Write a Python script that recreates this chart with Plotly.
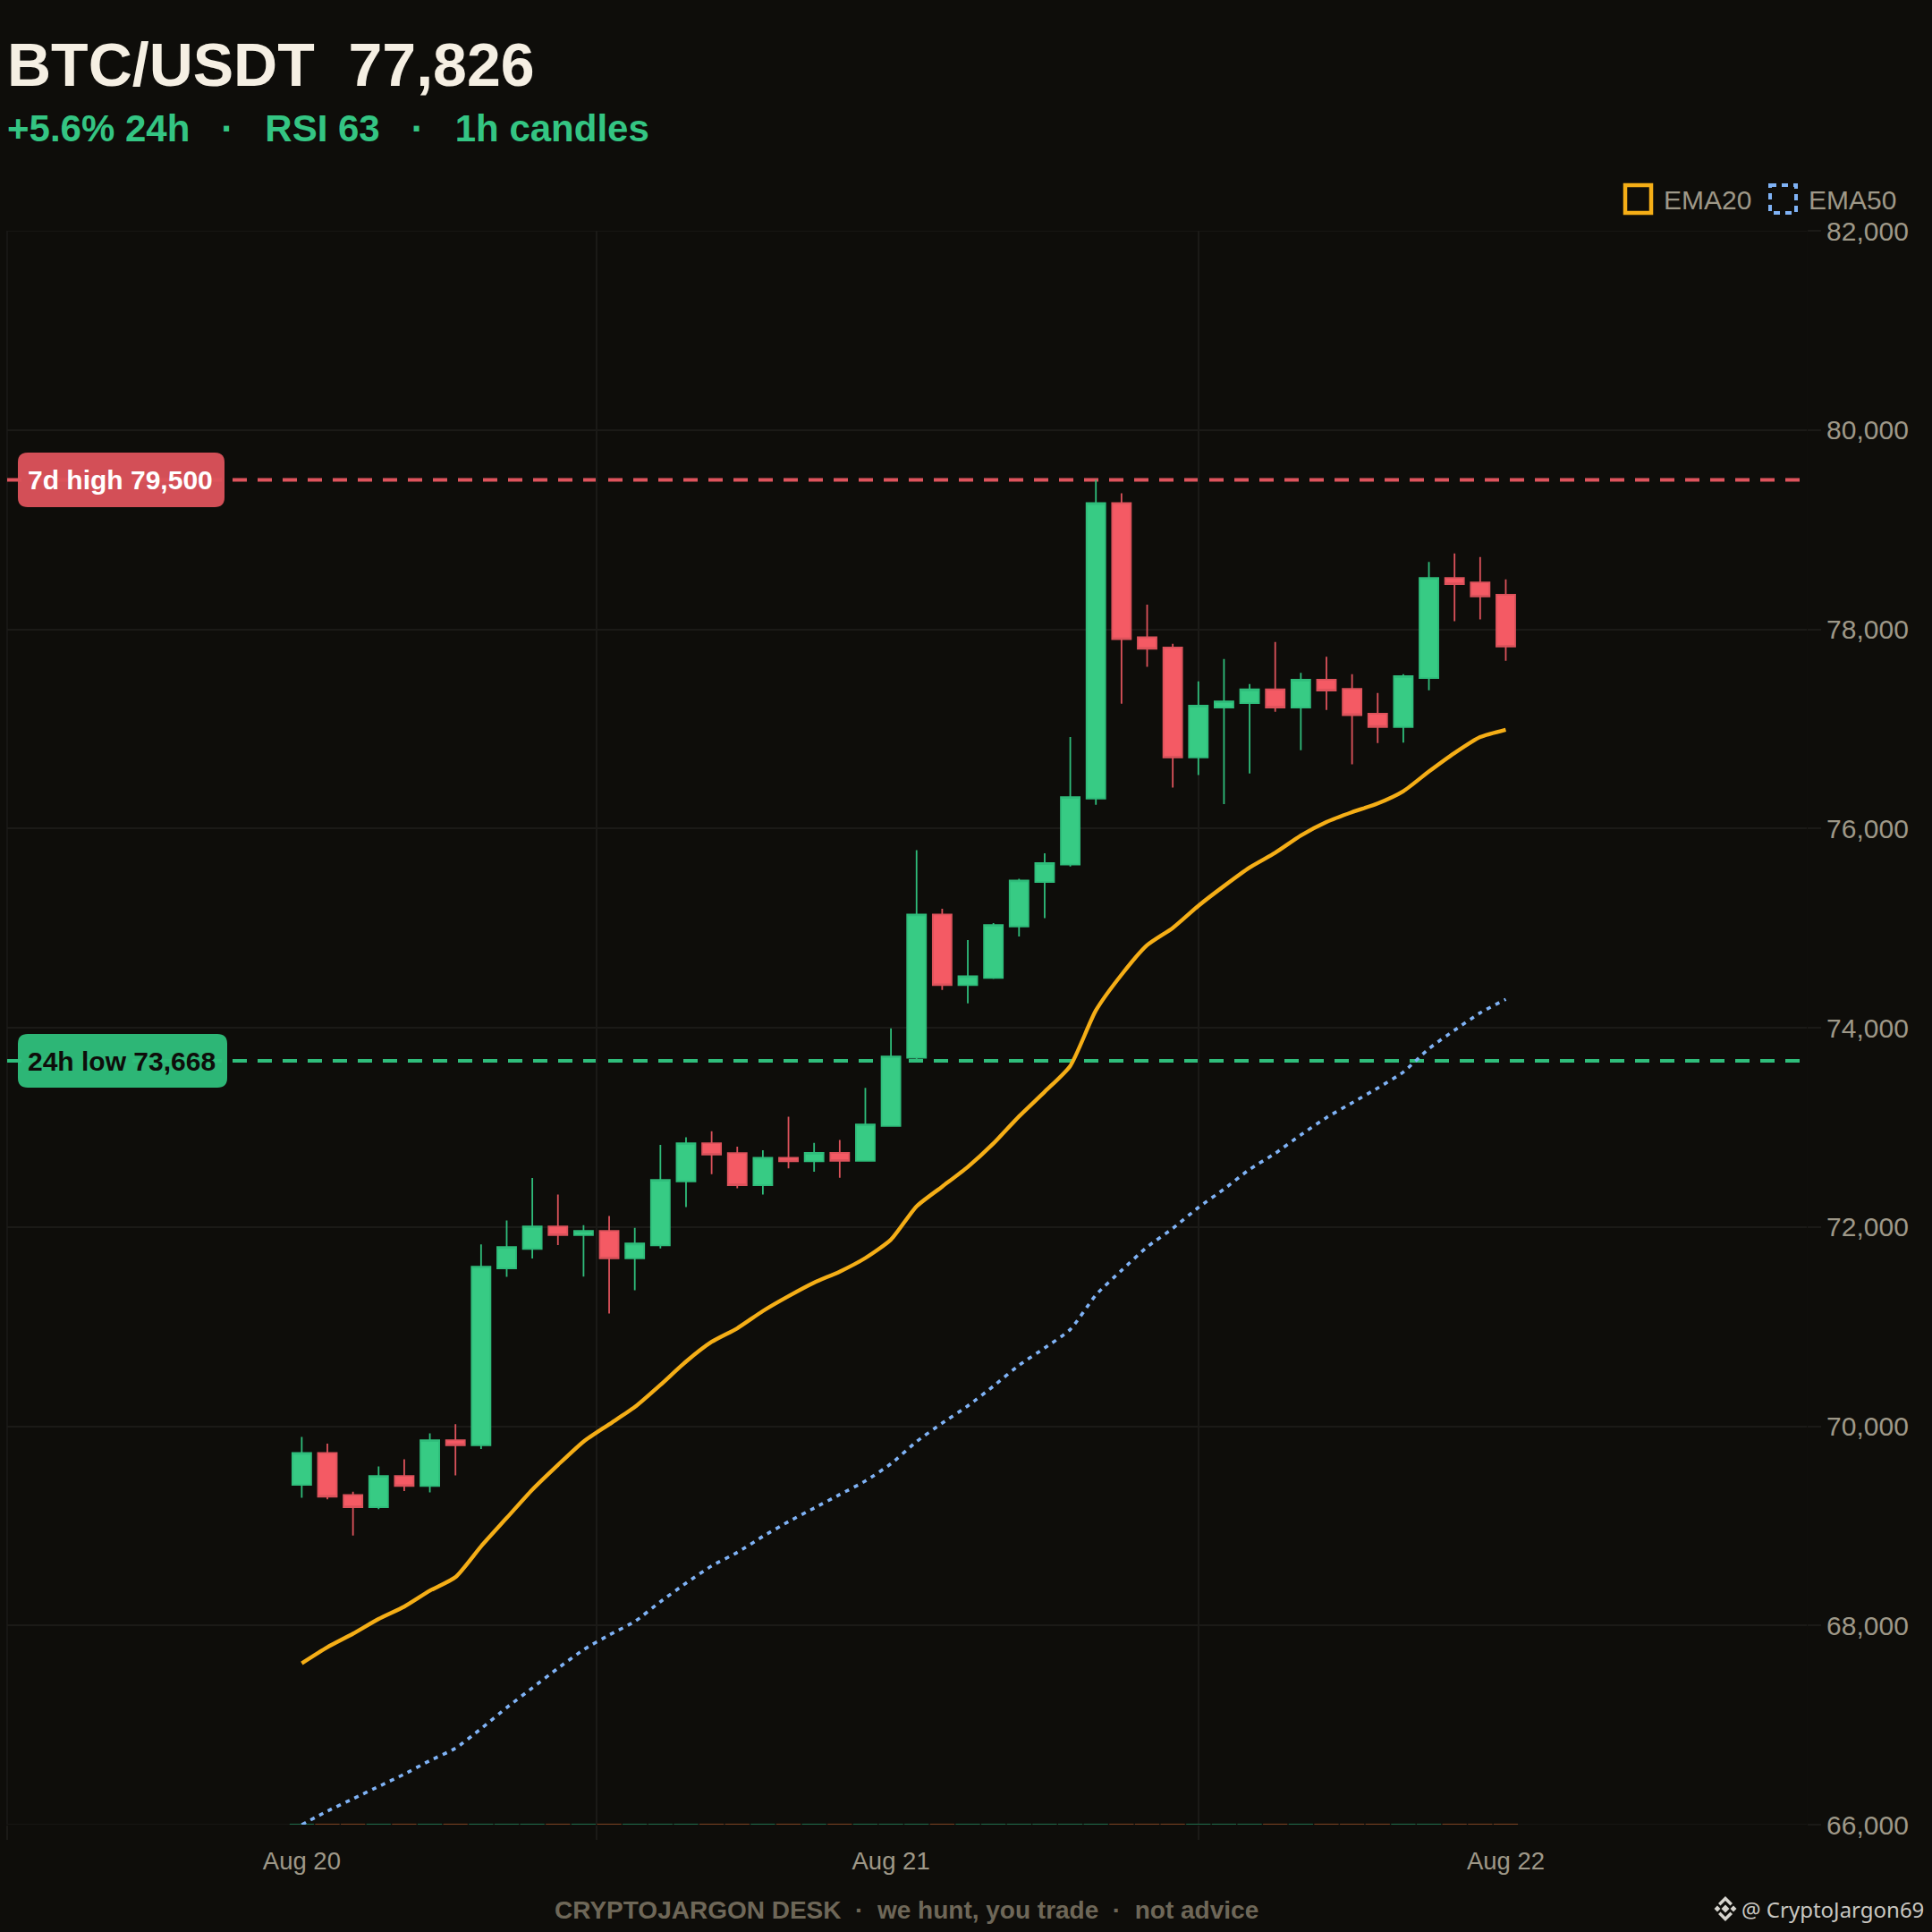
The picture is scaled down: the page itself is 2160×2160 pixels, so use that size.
import plotly.graph_objects as go

hours = list(range(48))

opens = [69411, 69731, 69309, 69186, 69500, 69399, 69859, 69809, 71583, 71780, 72005, 71918,
         71960, 71684, 71814, 72458, 72841, 72742, 72419, 72694, 72658, 72745, 72664, 73014,
         73698, 75137, 74428, 74500, 75017, 75463, 75637, 76301, 79266, 77919, 77817, 76713,
         77213, 77258, 77396, 77213, 77494, 77402, 77153, 77019, 77509, 78515, 78470, 78347]
highs = [69892, 69826, 69342, 69596, 69668, 69928, 70021, 71825, 72064, 72492, 72325, 72017,
         72109, 71990, 72823, 72901, 72960, 72805, 72769, 73107, 72844, 72874, 73397, 73994,
         75783, 75194, 74880, 75050, 75496, 75750, 76917, 79500, 79364, 78248, 77853, 77476,
         77701, 77449, 77871, 77563, 77725, 77548, 77360, 77548, 78676, 78760, 78724, 78500]
lows = [69282, 69267, 68902, 69168, 69348, 69336, 69506, 69770, 71499, 71684, 71819, 71502,
        71131, 71364, 71785, 72200, 72530, 72389, 72326, 72589, 72554, 72494, 72660, 73010,
        73668, 74380, 74245, 74490, 74916, 75101, 75619, 76238, 77252, 77623, 76411, 76537,
        76244, 76552, 77171, 76785, 77189, 76645, 76857, 76863, 77387, 78081, 78099, 77683]
closes = [69731, 69291, 69186, 69500, 69399, 69859, 69809, 71601, 71798, 72005, 71918, 71960,
          71684, 71834, 72473, 72841, 72727, 72419, 72694, 72658, 72745, 72664, 73029, 73711,
          75137, 74428, 74518, 75032, 75478, 75652, 76316, 79266, 77901, 77803, 76713, 77234,
          77276, 77396, 77213, 77494, 77384, 77138, 77019, 77530, 78515, 78452, 78329, 77826]

ema20 = [67620, 67781, 67917, 68065, 68189, 68349, 68485, 68794, 69079, 69363, 69611, 69846,
         70019, 70192, 70414, 70649, 70847, 70983, 71156, 71305, 71441, 71552, 71688, 71873,
         72207, 72405, 72603, 72838, 73110, 73357, 73617, 74173, 74532, 74829, 75002, 75224,
         75422, 75608, 75756, 75929, 76065, 76164, 76251, 76374, 76572, 76758, 76918, 76992]
ema50 = [66000, 66136, 66260, 66383, 66507, 66643, 66767, 66964, 67175, 67373, 67570, 67756,
         67904, 68040, 68238, 68424, 68597, 68733, 68893, 69042, 69178, 69314, 69450, 69623,
         69846, 70031, 70204, 70402, 70612, 70785, 70971, 71317, 71564, 71799, 71985, 72195,
         72380, 72578, 72739, 72924, 73098, 73246, 73394, 73555, 73790, 73975, 74149, 74285]

# thin coloured strip sitting on the bottom axis
volume_strip = [20] * 48

high_7d = 79500
low_24h = 73668

date_ticks = [0, 23, 47]
date_labels = ["Aug 20", "Aug 21", "Aug 22"]
grid_ticks = [-11.5, 11.5, 35]
price_ticks = [66000, 68000, 70000, 72000, 74000, 76000, 78000, 80000, 82000]

BG = "#0E0D0A"
GRID = "#1B1A17"
GREEN = "#37CB84"
RED = "#F45A64"
MUTED = "#9E9888"
FONT = "Liberation Sans"

# plot box in page pixels, decorations below are placed against it
LEFT, RIGHT, TOP, BOTTOM = 8, 2020, 258, 2040


def px(x):
    return (x - LEFT) / (RIGHT - LEFT)


def py(y):
    return (BOTTOM - y) / (BOTTOM - TOP)


def rounded_box(x0, y0, x1, y1, r):
    pts = [("M", x0 + r, y0), ("L", x1 - r, y0), ("Q", x1, y0, x1, y0 + r), ("L", x1, y1 - r),
           ("Q", x1, y1, x1 - r, y1), ("L", x0 + r, y1), ("Q", x0, y1, x0, y1 - r),
           ("L", x0, y0 + r), ("Q", x0, y0, x0 + r, y0)]
    out = ""
    for p in pts:
        out += p[0]
        coords = p[1:]
        for i in range(0, len(coords), 2):
            out += f"{px(coords[i]):.5f},{py(coords[i + 1]):.5f} "
    return out + "Z"


def poly(points):
    return "M" + " L".join(f"{px(a):.5f},{py(b):.5f}" for a, b in points) + " Z"


def label(x, y, text, size, color, bold=False, anchor="left", family=FONT):
    fig.add_annotation(xref="paper", yref="paper", x=px(x), y=py(y), text=text, showarrow=False,
                       xanchor=anchor, yanchor="middle", borderpad=0,
                       font=dict(family=family, size=size, color=color,
                                 weight="bold" if bold else "normal"))


strip_colors = ["#1F6647" if c >= o else "#743F22" for o, c in zip(opens, closes)]

fig = go.Figure()
fig.add_trace(go.Bar(x=hours, y=volume_strip, base=65990, width=0.95, cliponaxis=False,
                     marker=dict(color=strip_colors, line_width=0), name="Volume"))
fig.add_trace(go.Candlestick(
    x=hours, open=opens, high=highs, low=lows, close=closes, name="BTC/USDT",
    increasing=dict(line=dict(color="#2FBD7B", width=1.8), fillcolor=GREEN),
    decreasing=dict(line=dict(color="#DC525B", width=1.8), fillcolor=RED),
))
fig.add_trace(go.Scatter(x=hours, y=ema20, mode="lines", name="EMA20",
                         line=dict(color="#F5AE16", width=4.4, shape="spline", smoothing=0.6)))
fig.add_trace(go.Scatter(x=hours, y=ema50, mode="lines", name="EMA50",
                         line=dict(color="#7FB2F5", width=3.6, dash="5px,6px", shape="spline", smoothing=0.6)))

# plot frame: plotly drops the gridlines that fall on the range edges
for edge in [66000, 82000]:
    fig.add_shape(type="line", xref="paper", x0=0, x1=1, y0=edge, y1=edge, layer="below",
                  line=dict(color=GRID, width=1.6))
fig.add_shape(type="line", xref="paper", yref="paper", x0=0, x1=0, y0=0, y1=1, layer="below",
              line=dict(color=GRID, width=1.6))

fig.add_shape(type="line", xref="paper", x0=0, x1=1, y0=high_7d, y1=high_7d, layer="below",
              line=dict(color="#DE545D", width=4, dash="16px,12px"))
fig.add_shape(type="line", xref="paper", x0=0, x1=1, y0=low_24h, y1=low_24h, layer="below",
              line=dict(color="#2FBD7B", width=4, dash="16px,12px"))

# price chips
fig.add_shape(type="path", xref="paper", yref="paper", path=rounded_box(20, 506, 251, 567, 11),
              fillcolor="#DC525B", opacity=0.96, line_width=0)
fig.add_shape(type="path", xref="paper", yref="paper", path=rounded_box(20, 1156, 254, 1216, 11),
              fillcolor="#2FBD7B", opacity=0.96, line_width=0)

# legend swatches
fig.add_shape(type="rect", xref="paper", yref="paper", x0=px(1817), x1=px(1846), y0=py(207), y1=py(238),
              line=dict(color="#F5AE16", width=4.5))
fig.add_shape(type="rect", xref="paper", yref="paper", x0=px(1979), x1=px(2008), y0=py(207), y1=py(238),
              line=dict(color="#7FB2F5", width=4, dash="7px,6px"))

# logo next to the handle
lx, ly = 1929, 2134
for pts in [
    [(lx, ly - 4.5), (lx + 4.5, ly), (lx, ly + 4.5), (lx - 4.5, ly)],
    [(lx - 12.5, ly), (lx - 9, ly - 3.5), (lx - 5.5, ly), (lx - 9, ly + 3.5)],
    [(lx + 12.5, ly), (lx + 9, ly - 3.5), (lx + 5.5, ly), (lx + 9, ly + 3.5)],
    [(lx, ly - 14), (lx + 8, ly - 6), (lx + 5.5, ly - 3.5), (lx, ly - 9), (lx - 5.5, ly - 3.5), (lx - 8, ly - 6)],
    [(lx, ly + 14), (lx + 8, ly + 6), (lx + 5.5, ly + 3.5), (lx, ly + 9), (lx - 5.5, ly + 3.5), (lx - 8, ly + 6)],
]:
    fig.add_shape(type="path", xref="paper", yref="paper", path=poly(pts), fillcolor="#D6D4CE", line_width=0)

fig.update_layout(
    width=2160, height=2160,
    margin=dict(l=LEFT, r=2160 - RIGHT, t=TOP, b=2160 - BOTTOM, pad=0),
    paper_bgcolor=BG, plot_bgcolor=BG,
    showlegend=False, hovermode=False,
    boxgap=0.15, boxgroupgap=0.135,
    font=dict(family=FONT, size=30, color=MUTED),
    xaxis=dict(
        range=[-11.5, 58.75], rangeslider_visible=False, showgrid=False, zeroline=False,
        tickmode="array", tickvals=date_ticks, ticktext=date_labels, ticks="",
        ticklabelstandoff=21, tickfont=dict(size=27.5, color=MUTED),
        minor=dict(tickmode="array", tickvals=grid_ticks, showgrid=True, gridcolor=GRID, gridwidth=1.6,
                   ticks="outside", ticklen=16, tickcolor=GRID, tickwidth=1.6),
    ),
    yaxis=dict(
        range=[66000, 82000], side="right", tickmode="array", tickvals=price_ticks, tickformat=",",
        showgrid=True, gridcolor=GRID, gridwidth=1.6, zeroline=False,
        ticks="outside", ticklen=15, tickcolor=GRID, tickwidth=1.6,
        showline=True, linecolor="#100F0C", linewidth=1.2,
        tickfont=dict(size=30, color=MUTED),
    ),
)

nb = "\u00a0"
label(7, 72, f"BTC/USDT{nb}{nb}77,826", 68, "#F5EFE3", bold=True)
label(7, 143, f"+5.6% 24h{nb*3}·{nb*3}RSI 63{nb*3}·{nb*3}1h candles", 42, "#34C583", bold=True)
label(1859, 223, "EMA20", 30, MUTED)
label(2021, 223, "EMA50", 30, MUTED)
label(30, 536, "7d high 79,500", 30, "#FFFFFF", bold=True)
label(30, 1186, "24h low 73,668", 30, "#0E0D0A", bold=True)
label(1013, 2135, f"CRYPTOJARGON DESK{nb*2}·{nb*2}we hunt, you trade{nb*2}·{nb*2}not advice", 28, "#6E6758",
      bold=True, anchor="center")
label(1946, 2134, "@ CryptoJargon69", 24, "#C9C7C1", family="Noto Sans")

# page margin off so the figure fills the window
fig.write_html("out.html", config={"displayModeBar": False},
               post_script="document.body.style.margin='0';document.body.style.background='#0E0D0A';")
